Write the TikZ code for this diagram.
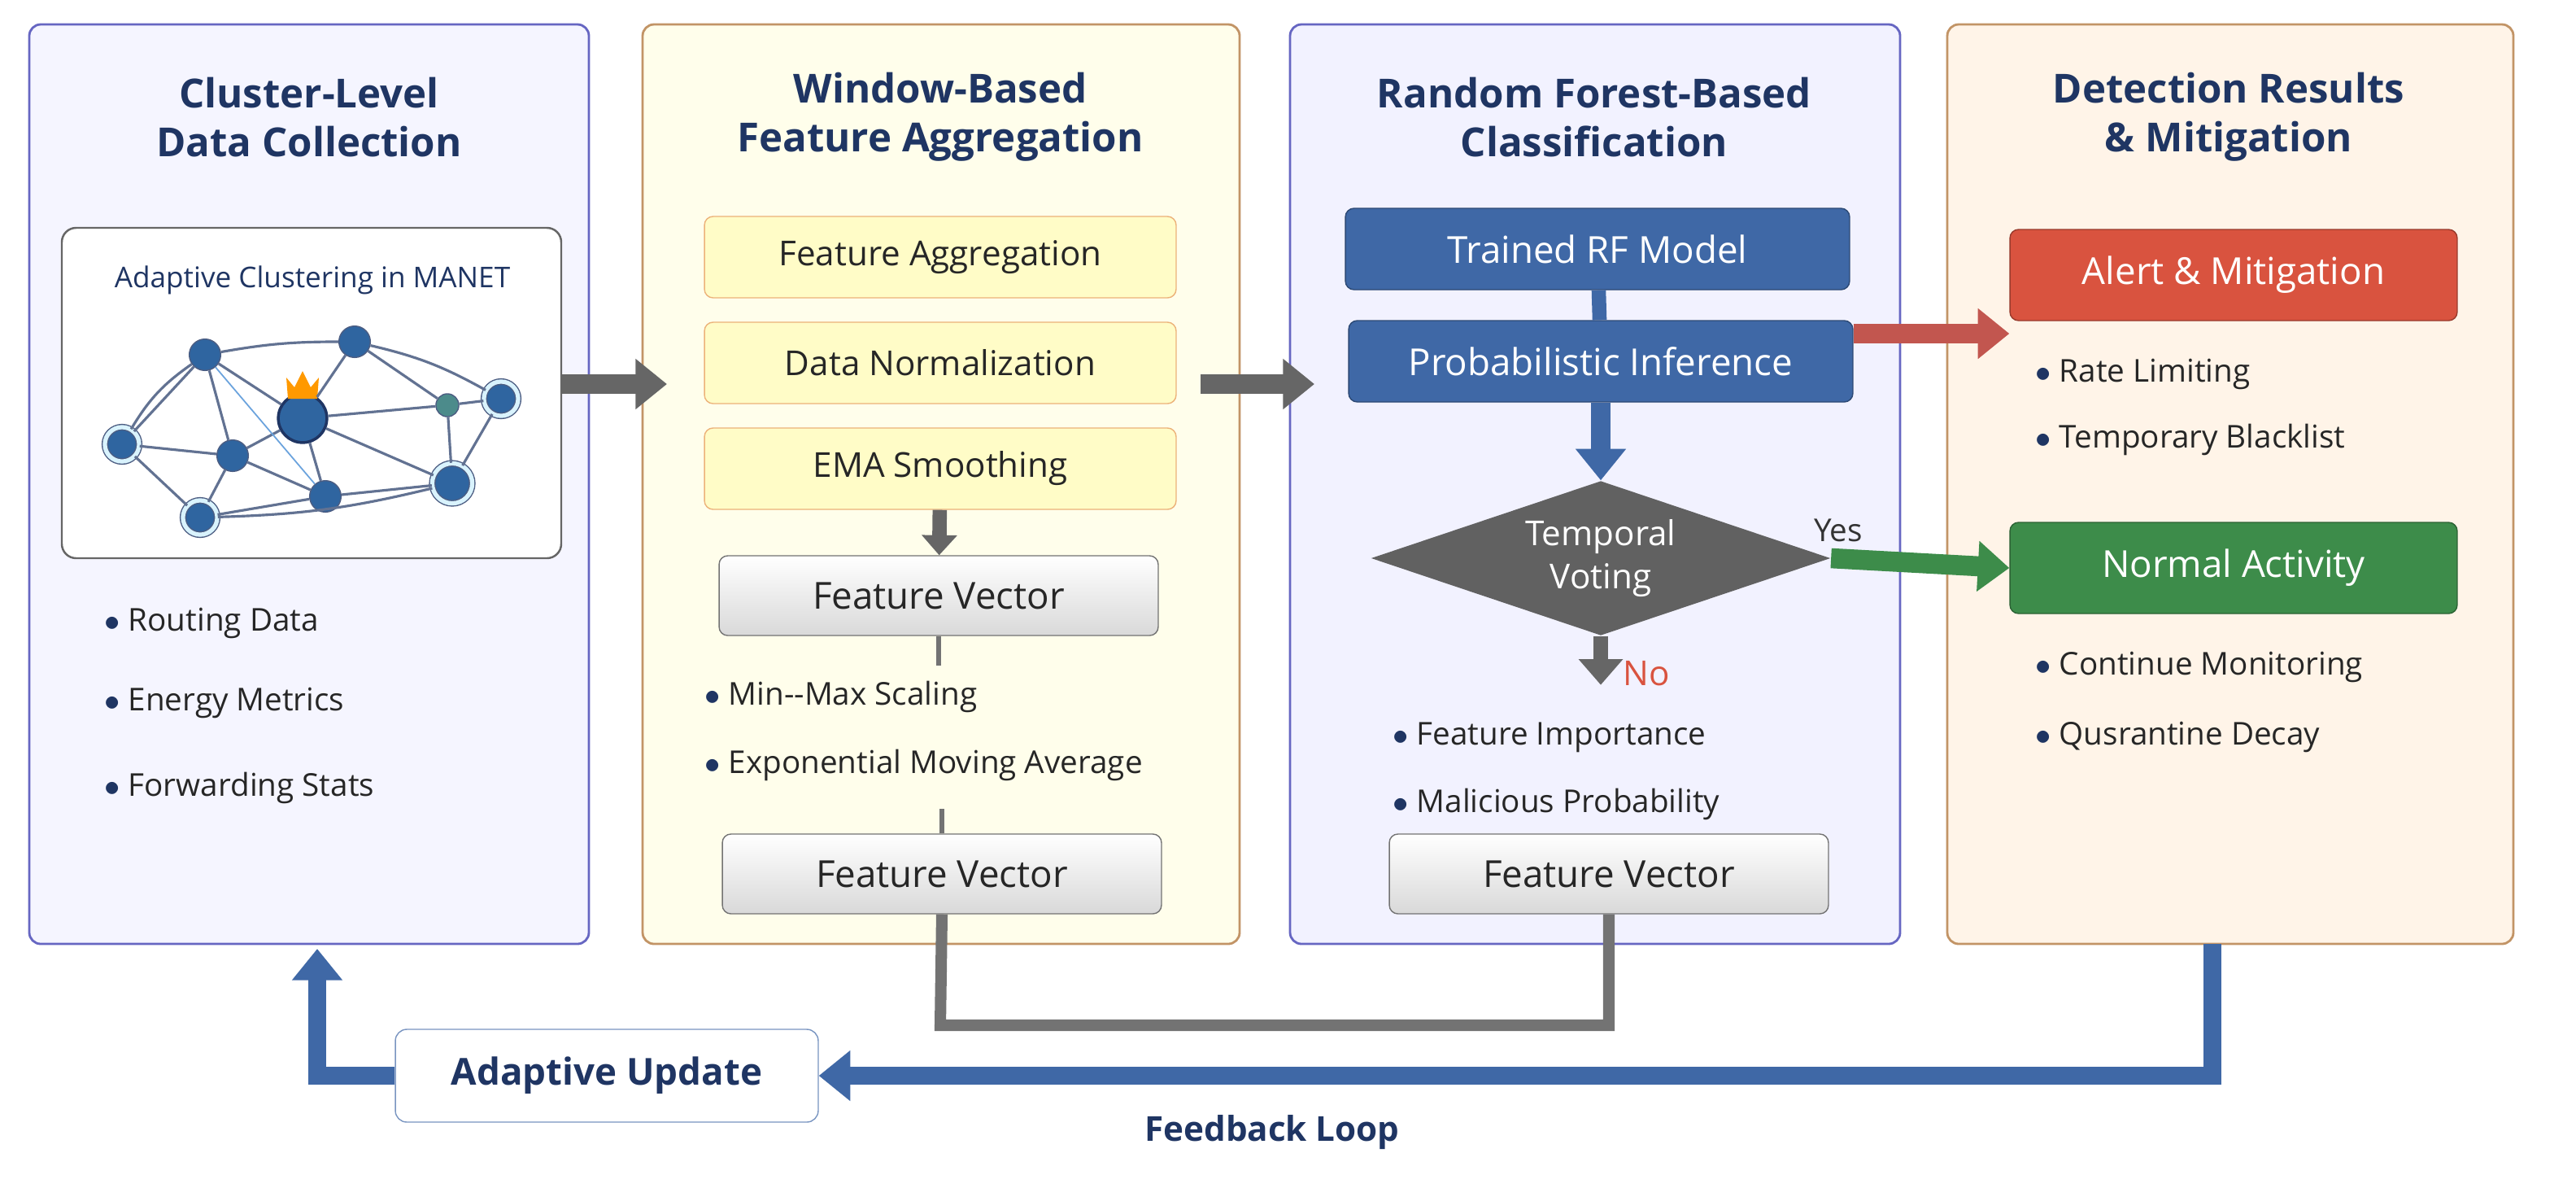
\documentclass[tikz,border=0pt]{standalone}
\usepackage{fontspec}
\setmainfont{Open Sans}
\usetikzlibrary{arrows.meta}
\usetikzlibrary{positioning}
\usetikzlibrary{shapes.geometric}

\definecolor{navy}{HTML}{1F3563}
\definecolor{rfblue}{HTML}{3F68A6}
\definecolor{alertred}{HTML}{D9533F}
\definecolor{okgreen}{HTML}{3D8C4A}
\definecolor{dotblue}{HTML}{2F65A0}

\tikzset{
  panel/.style={draw=#1!60!black!60,rounded corners=4pt,line width=0.8pt},
  title/.style={font=\bfseries\fontsize{14}{17}\selectfont,text=navy,align=center},
  ybox/.style={draw=orange!50!brown!60,fill=yellow!22,rounded corners=3pt,minimum width=5.8cm,minimum height=1cm,font=\fontsize{12}{14}\selectfont,text=black!85},
  gbox/.style={draw=black!55,top color=white,bottom color=black!15,rounded corners=3pt,minimum width=5.4cm,minimum height=0.98cm,font=\fontsize{13}{15}\selectfont,text=black!85},
  bbox/.style={draw=rfblue!70!black,fill=rfblue,rounded corners=3pt,minimum width=6.2cm,minimum height=1cm,font=\fontsize{13}{15}\selectfont,text=white},
  cbox/.style={draw=#1!70!black,fill=#1,rounded corners=3pt,minimum width=5.5cm,minimum height=1.12cm,font=\fontsize{13}{15}\selectfont,text=white},
  item/.style={anchor=west,font=\fontsize{11}{13}\selectfont,text=black!85},
  dot/.style={circle,fill=dotblue,draw=navy!80,inner sep=0pt,minimum size=#1},
  ring/.style={dot=#1,double=cyan!15,double distance=1.5pt},
  link/.style={navy!70,line width=0.9pt},
  bigarrow/.style={line width=7pt,-{Triangle[length=11pt,width=17pt]}},
}
\newcommand{\bul}[3]{\node[item] (#1) at (#2) {\textcolor{navy}{$\bullet$}\ #3};}

\begin{document}
\begin{tikzpicture}[x=0.02cm,y=-0.02cm]
  \useasboundingbox[fill=white] (0,0) rectangle (1583.5,729.5);
  % panels
  \draw[panel=blue,fill=blue!4] (18,15) rectangle (362,580);
  \draw[panel=orange,fill=yellow!8] (395,15) rectangle (762,580);
  \draw[panel=blue,fill=blue!5] (793,15) rectangle (1168,580);
  \draw[panel=orange,fill=orange!9] (1197,15) rectangle (1545,580);
  \node[title] (t1) at (190,72) {Cluster-Level\\Data Collection};
  \node[title] (t2) at (578,72) {Window-Based\\Feature Aggregation};
  \node[title] (t3) at (980,72) {Random Forest-Based\\Classification};
  \node[title] (t4) at (1370,72) {Detection Results\\\& Mitigation};

  % panel 1
  \draw[black!60,fill=white,rounded corners=5pt,line width=0.7pt] (38,140) rectangle (345,343);
  \node[font=\fontsize{10}{12}\selectfont,text=navy] (mt) at (192,172) {Adaptive Clustering in MANET};
  \node[dot=11pt] (a) at (126,218) {};
  \node[dot=11pt] (b) at (218,210) {};
  \node[dot=17pt,draw=navy,line width=1pt] (c) at (186,257) {};
  \node[dot=8pt,fill=teal!70!black!70] (d) at (275,249) {};
  \node[ring=12pt] (e) at (308,245) {};
  \node[ring=12pt] (f) at (75,273) {};
  \node[dot=11pt] (g) at (143,280) {};
  \node[dot=11pt] (h) at (200,305) {};
  \node[ring=14pt] (i) at (278,297) {};
  \node[ring=12pt] (j) at (123,318) {};
  \fill[orange!80!yellow] (177,245) -- (176,232) -- (181,238) -- (186,228) -- (191,238) -- (196,232) -- (195,245) -- cycle;
  \draw[link] (a) to[bend left=5] (b);
  \draw[link] (b) to[bend left=8] (e);
  \draw[link] (j) to[bend right=6] (i);
  \draw[link] (f) to[bend left=12] (a);
  \draw[link] (a) -- (f) (a) -- (g) (a) -- (c) (b) -- (c) (b) -- (d) (c) -- (d) (c) -- (g) (c) -- (h) (c) -- (i)
    (d) -- (e) (d) -- (i) (e) -- (i) (f) -- (g) (f) -- (j) (g) -- (j) (g) -- (h) (h) -- (j) (h) -- (i);
  \draw[cyan!60!blue!60,line width=0.5pt] (a) -- (h);
  \bul{r1}{58,383}{Routing Data}
  \bul{r2}{58,432}{Energy Metrics}
  \bul{r3}{58,484}{Forwarding Stats}

  % panel 2
  \node[ybox] (fa) at (578,158) {Feature Aggregation};
  \node[ybox] (dn) at (578,223) {Data Normalization};
  \node[ybox] (ema) at (578,288) {EMA Smoothing};
  \node[gbox] (fv1) at (577,366) {Feature Vector};
  \node[gbox] (fv2) at (579,537) {Feature Vector};
  \draw[black!60,line width=5pt,-{Triangle[length=7pt,width=12pt]}] (ema) -- (fv1);
  \draw[black!55,line width=1.5pt] (fv1.south) -- ++(0,18);
  \draw[black!55,line width=1.5pt] (fv2.north) -- ++(0,-15);
  \bul{m1}{427,428}{Min-{}-Max Scaling}
  \bul{m2}{427,470}{Exponential Moving Average}

  % panel 3
  \node[bbox] (rf) at (982,153) {Trained RF Model};
  \node[bbox] (pi) at (984,222) {Probabilistic Inference};
  \draw[rfblue,line width=5pt] (rf) -- (pi);
  \node[diamond,fill=black!62,aspect=3,inner sep=1pt,minimum width=5.65cm,minimum height=1.9cm,
    font=\fontsize{12}{15}\selectfont,text=white,align=center] (tv) at (984,343) {Temporal\\Voting};
  \draw[rfblue,bigarrow] (pi) -- (tv);
  \draw[black!60,line width=5pt,-{Triangle[length=9pt,width=15pt]}] (tv.south) -- ++(0,30) coordinate (nob);
  \node[text=alertred,font=\fontsize{12}{14}\selectfont] (no) at (1012,414) {No};
  \node[font=\fontsize{11}{13}\selectfont,text=black!80] (yes) at (1130,326) {Yes};
  \bul{p1}{850,453}{Feature Importance}
  \bul{p2}{850,494}{Malicious Probability}
  \node[gbox] (fv3) at (989,537) {Feature Vector};

  % panel 4
  \node[cbox=alertred] (al) at (1373,169) {Alert \& Mitigation};
  \node[cbox=okgreen] (na) at (1373,349) {Normal Activity};
  \bul{d1}{1245,230}{Rate Limiting}
  \bul{d2}{1245,270}{Temporary Blacklist}
  \bul{d3}{1245,410}{Continue Monitoring}
  \bul{d4}{1245,453}{Qusrantine Decay}

  % between panels
  \coordinate (p1r) at (345,236);
  \coordinate (p2r) at (738,236);
  \draw[black!60,bigarrow] (p1r) -- (410,236);
  \draw[black!60,bigarrow] (p2r) -- (808,236);
  \draw[bigarrow,alertred!85!rfblue] (pi.east |- 0,205) -- (al.west |- 0,205);
  \draw[bigarrow,okgreen] (tv.east) -- (na.west);

  % bottom loop
  \draw[black!55,line width=4pt] (fv2.south) -- (578,630) -| (fv3.south);
  \node[draw=rfblue!70,fill=white,rounded corners=4pt,minimum width=5.2cm,minimum height=1.14cm,
    font=\bfseries\fontsize{13}{15}\selectfont,text=navy] (au) at (373,661) {Adaptive Update};
  \coordinate (p4b) at (1360,580);
  \coordinate (p1b) at (195,583);
  \draw[rfblue,line width=6pt,-{Triangle[length=11pt,width=17pt]}] (p4b) |- (au.east);
  \draw[rfblue,line width=6pt,-{Triangle[length=11pt,width=17pt]}] (au.west) -| (p1b);
  \node[font=\bfseries\fontsize{12}{14}\selectfont,text=navy] (fl) at (782,696) {Feedback Loop};
\end{tikzpicture}
\end{document}
